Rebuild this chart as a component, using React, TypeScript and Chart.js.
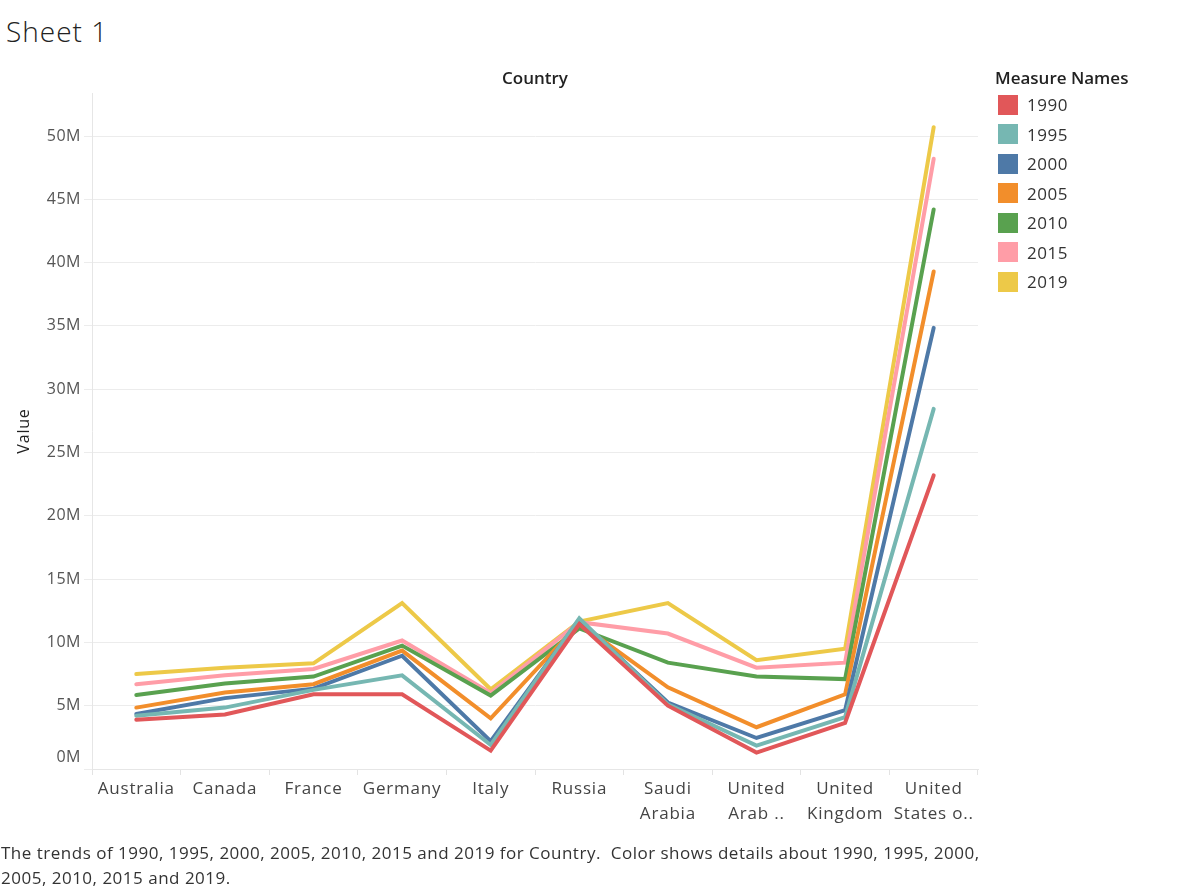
import React, { useEffect, useRef } from "react";
import { Chart, registerables } from "chart.js";

Chart.register(...registerables);

// Countries along the x axis (multi-line labels as shown under each column)
const countries: (string | string[])[] = [
  "Australia",
  "Canada",
  "France",
  "Germany",
  "Italy",
  "Russia",
  ["Saudi", "Arabia"],
  ["United", "Arab .."],
  ["United", "Kingdom"],
  ["United", "States o.."],
];

// Values in millions, one array per measure year
const v1990 = [3.9, 4.3, 5.9, 5.9, 1.45, 11.45, 5.0, 1.3, 3.65, 23.2];
const v1995 = [4.2, 4.85, 6.25, 7.4, 1.9, 11.9, 5.1, 1.85, 4.1, 28.45];
const v2000 = [4.35, 5.6, 6.35, 8.95, 2.2, 11.8, 5.25, 2.45, 4.65, 34.85];
const v2005 = [4.85, 6.05, 6.7, 9.35, 4.0, 11.5, 6.45, 3.3, 5.9, 39.3];
const v2010 = [5.85, 6.75, 7.3, 9.75, 5.8, 11.1, 8.4, 7.3, 7.1, 44.2];
const v2015 = [6.7, 7.4, 7.9, 10.15, 6.0, 11.6, 10.7, 8.0, 8.4, 48.2];
const v2019 = [7.5, 8.0, 8.35, 13.1, 6.3, 11.65, 13.1, 8.6, 9.5, 50.7];

const measureNames = ["1990", "1995", "2000", "2005", "2010", "2015", "2019"];
const measureValues = [v1990, v1995, v2000, v2005, v2010, v2015, v2019];
const measureColors = ["#E15759", "#76B7B2", "#4E79A7", "#F28E2B", "#59A14F", "#FF9DA7", "#EDC948"];

const FONT = "'Open Sans', Lato, sans-serif";

// Slightly open tracking for the axis text drawn on the canvas
const trackingPlugin = {
  id: "tracking",
  beforeDraw(chart: any) {
    chart.ctx.letterSpacing = "0.8px";
  },
  afterDraw(chart: any) {
    chart.ctx.letterSpacing = "0px";
  },
};

// Draws the "NM" value labels beside the y axis; the bottom label is kept inside the axis
const yLabelPlugin = {
  id: "yLabels",
  afterDraw(chart: any) {
    const scale = chart.scales.y;
    const ctx = chart.ctx;
    ctx.save();
    ctx.letterSpacing = "0.5px";
    ctx.font = `16px ${FONT}`;
    ctx.fillStyle = "#555";
    ctx.textAlign = "right";
    ctx.textBaseline = "middle";
    scale.ticks.forEach((t: any) => {
      let py = scale.getPixelForValue(t.value);
      if (py > scale.bottom - 10) py = scale.bottom - 12;
      ctx.fillText(`${t.value}M`, scale.right - 11, py);
    });
    ctx.restore();
  },
};

export default function App() {
  const canvasRef = useRef<HTMLCanvasElement | null>(null);

  useEffect(() => {
    if (!canvasRef.current) return;
    const chart = new Chart(canvasRef.current, {
      type: "line",
      data: {
        labels: countries,
        datasets: measureNames.map((name, i) => ({
          label: name,
          data: measureValues[i],
          borderColor: measureColors[i],
          backgroundColor: measureColors[i],
          borderWidth: 4,
          borderCapStyle: "round" as const,
          pointRadius: 0,
          tension: 0,
          fill: false,
        })),
      },
      options: {
        responsive: false,
        animation: false,
        layout: { padding: { top: 93, right: 222, bottom: 0, left: 0 } },
        plugins: {
          legend: { display: false },
          tooltip: { enabled: false },
        },
        scales: {
          x: {
            type: "category",
            offset: true,
            grid: {
              offset: true,
              drawOnChartArea: false,
              drawTicks: true,
              tickLength: 6,
              color: "#e3e3e3",
            },
            border: { display: true, color: "#e6e6e6" },
            ticks: {
              color: "#444",
              font: { family: FONT, size: 17, lineHeight: 1.45 },
              padding: 2,
              maxRotation: 0,
              autoSkip: false,
            },
            afterFit(scale: any) {
              scale.height = 121;
            },
          },
          y: {
            min: 0,
            max: 53.4,
            ticks: { stepSize: 5, includeBounds: false, display: false },
            grid: { color: "#ececec", tickLength: 8, drawTicks: true },
            border: { display: true, color: "#e6e6e6" },
            title: {
              display: true,
              text: "Value",
              color: "#222",
              font: { family: FONT, size: 16 },
              padding: { top: 15, bottom: 0 },
            },
            afterFit(scale: any) {
              scale.width = 92;
            },
          },
        },
      },
      plugins: [trackingPlugin, yLabelPlugin],
    });
    return () => chart.destroy();
  }, []);

  return (
    <div style={{ position: "absolute", left: 0, top: 0, width: 1200, height: 890, background: "#fff", fontFamily: FONT }}>
      <div style={{ position: "absolute", left: 6, top: 12, fontSize: 28, fontWeight: 300, letterSpacing: 1, color: "#222" }}>Sheet 1</div>
      <canvas ref={canvasRef} width={1200} height={890} style={{ position: "absolute", left: 0, top: 0 }} />
      <div style={{ position: "absolute", left: 435, width: 200, textAlign: "center", top: 66, fontSize: 17, fontWeight: 600, color: "#222" }}>
        Country
      </div>
      <div style={{ position: "absolute", left: 995, top: 66 }}>
        <div style={{ fontSize: 17, fontWeight: 600, color: "#222", marginBottom: 1 }}>Measure Names</div>
        {measureNames.map((name, i) => (
          <div key={name} style={{ display: "flex", alignItems: "center", height: 29.5 }}>
            <span style={{ display: "inline-block", width: 20, height: 20, marginLeft: 3, marginRight: 9, background: measureColors[i] }} />
            <span style={{ fontSize: 17, letterSpacing: 0.5, color: "#333" }}>{name}</span>
          </div>
        ))}
      </div>
      <div style={{ position: "absolute", left: 1, top: 840, width: 1000, fontSize: 17, letterSpacing: 0.5, lineHeight: "25px", color: "#333", whiteSpace: "nowrap" }}>
        The trends of 1990, 1995, 2000, 2005, 2010, 2015 and 2019 for Country.&nbsp; Color shows details about 1990, 1995, 2000,
        <br />
        2005, 2010, 2015 and 2019.
      </div>
    </div>
  );
}
